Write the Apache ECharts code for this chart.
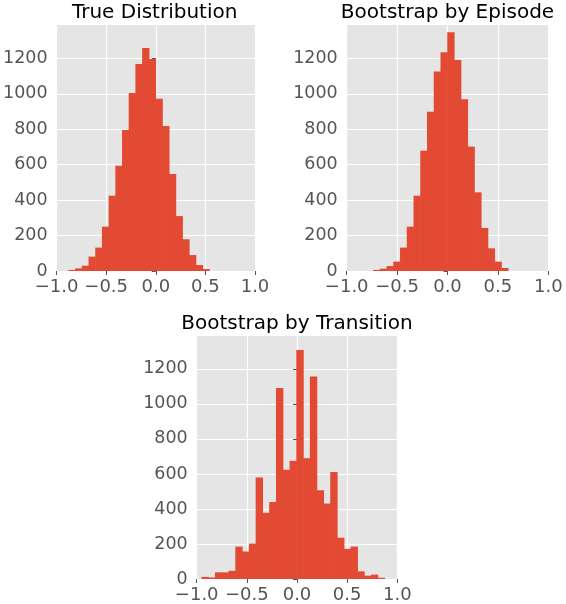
<!DOCTYPE html>
<html>
<head>
<meta charset="utf-8">
<script src="https://cdn.jsdelivr.net/npm/echarts@6/dist/echarts.min.js"></script>
<style>
html,body{margin:0;padding:0;background:#fff;}
#chart{width:566px;height:604px;}
</style>
</head>
<body>
<div id="chart"></div>
<script>
// ---- data ----
const titles = ['True Distribution', 'Bootstrap by Episode', 'Bootstrap by Transition'];
const xTicks = [-1.0, -0.5, 0.0, 0.5, 1.0];
const yTicks = [0, 200, 400, 600, 800, 1000, 1200];

const trueStart = -0.877, trueWidth = 0.0675;
const trueCounts = [6, 15, 30, 81, 132, 250, 425, 594, 796, 1004, 1168, 1258, 1196, 972, 818, 547, 310, 179, 90, 34, 11];

const episodeStart = -0.7355, episodeWidth = 0.0669;
const episodeCounts = [6, 13, 28, 53, 132, 250, 425, 679, 899, 1125, 1234, 1347, 1190, 969, 702, 444, 243, 128, 53, 17];

const transitionStart = -0.950, transitionWidth = 0.0676;
const transitionCounts = [12, 9, 38, 38, 47, 185, 157, 202, 580, 378, 440, 1091, 624, 675, 1308, 690, 1157, 507, 431, 611, 236, 172, 185, 44, 19, 25, 7];

const yMax = 1388;

// ---- build ----
function bins(start, width, counts) {
  return counts.map((c, i) => [start + i * width, start + (i + 1) * width, c]);
}
const panels = [
  {title: titles[0], data: bins(trueStart, trueWidth, trueCounts), grid: {left: 54.3, top: 25, width: 200.7, height: 246}},
  {title: titles[1], data: bins(episodeStart, episodeWidth, episodeCounts), grid: {left: 346.7, top: 25, width: 201.6, height: 246}},
  {title: titles[2], data: bins(transitionStart, transitionWidth, transitionCounts), grid: {left: 196.7, top: 336, width: 200.6, height: 244}}
];

const FONT = 'DejaVu Sans';
const option = {
  animation: false,
  backgroundColor: '#ffffff',
  title: panels.map(p => ({
    text: p.title,
    left: p.grid.left + p.grid.width / 2,
    top: p.grid.top - 22,
    textAlign: 'center',
    padding: 0,
    textStyle: {fontFamily: FONT, fontSize: 20, fontWeight: 'normal', color: '#000'}
  })),
  grid: panels.map(p => Object.assign({show: true, backgroundColor: '#E5E5E5', borderWidth: 0, containLabel: false}, p.grid)),
  xAxis: panels.map((p, i) => ({
    type: 'value', gridIndex: i, min: -1, max: 1, interval: 0.5,
    axisLine: {show: false},
    axisTick: {show: true, length: 4, lineStyle: {color: '#555555', width: 1}},
    axisLabel: {fontFamily: FONT, fontSize: 18, color: '#555555', margin: 7,
      formatter: v => v.toFixed(1).replace('-', '\u2212')},
    splitLine: {show: true, lineStyle: {color: '#ffffff', width: 1.2}}
  })),
  yAxis: panels.map((p, i) => ({
    type: 'value', gridIndex: i, min: 0, max: yMax,
    axisLine: {show: false},
    axisTick: {show: true, length: 4, customValues: yTicks, lineStyle: {color: '#555555', width: 1}},
    axisLabel: {fontFamily: FONT, fontSize: 17.5, color: '#555555', margin: 9, customValues: yTicks,
      formatter: v => String(Math.round(v))},
    splitLine: {show: true, lineStyle: {color: '#ffffff', width: 1.2}}
  })),
  series: panels.map((p, i) => ({
    type: 'custom', xAxisIndex: i, yAxisIndex: i, z: 5,
    data: p.data,
    renderItem: (params, api) => {
      const a = api.coord([api.value(0), api.value(2)]);
      const b = api.coord([api.value(1), 0]);
      return {type: 'rect', shape: {x: a[0] - 0.3, y: a[1], width: b[0] - a[0] + 0.6, height: b[1] - a[1]},
        style: {fill: '#E24A33'}};
    }
  }))
};
const chart = echarts.init(document.getElementById('chart'), null, {renderer: 'canvas'});
chart.setOption(option);
</script>
</body>
</html>
